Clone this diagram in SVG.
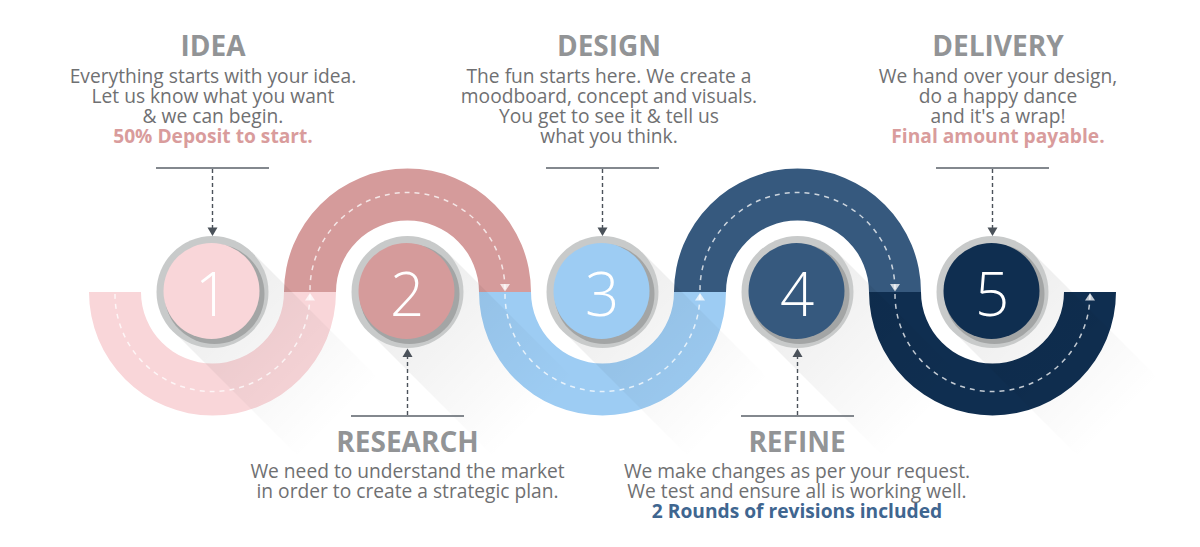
<svg xmlns="http://www.w3.org/2000/svg" width="1200" height="547" viewBox="0 0 1200 547">
<style>
.title{font-family:"Open Sans","Liberation Sans",sans-serif;font-weight:700;font-size:28px;fill:#929496;text-anchor:middle}
.body{font-family:"Open Sans","Liberation Sans",sans-serif;font-size:19.2px;fill:#6F7072;text-anchor:middle}
.pink{font-weight:700;fill:#D99C9C}
.blue{font-weight:700;fill:#3F6690}
.num{font-family:"Open Sans","Liberation Sans",sans-serif;font-weight:300;font-size:60px;fill:#FFFFFF;text-anchor:middle}
.dash{fill:none;stroke:#FFFFFF;stroke-opacity:0.75;stroke-width:1.5;stroke-dasharray:5 5}
.tip{fill:#FFFFFF;fill-opacity:0.75}
.hline{stroke:#5A6168;stroke-width:1.6}
.vline{stroke:#4B525A;stroke-width:1.4;stroke-dasharray:4 3}
.carrow{fill:#4B525A}
.ring{fill:#C8CACA}
.inner{fill:#A3A5A5}
</style>
<defs>
<linearGradient id="sh" x1="0" y1="0" x2="1" y2="1">
<stop offset="0.19" stop-color="#000" stop-opacity="0.07"/>
<stop offset="0.5" stop-color="#000" stop-opacity="0.035"/>
<stop offset="0.81" stop-color="#000" stop-opacity="0"/>
</linearGradient>
</defs>
<rect width="1200" height="547" fill="#FFFFFF"/>
<g id="arcs">
<path d="M89 292 A123.5 123.5 0 0 0 336 292 L284 292 A71.5 71.5 0 0 1 141 292 Z" fill="#F9D6D9"/>
<path d="M284 292 A123.5 123.5 0 0 1 531 292 L479 292 A71.5 71.5 0 0 0 336 292 Z" fill="#D59B9B"/>
<path d="M479 292 A123.5 123.5 0 0 0 726 292 L674 292 A71.5 71.5 0 0 1 531 292 Z" fill="#9DCCF3"/>
<path d="M674 292 A123.5 123.5 0 0 1 921 292 L869 292 A71.5 71.5 0 0 0 726 292 Z" fill="#36597E"/>
<path d="M869 292 A123.5 123.5 0 0 0 1116 292 L1064 292 A71.5 71.5 0 0 1 921 292 Z" fill="#0F2E50"/>
</g>
<g id="shadows">
<polygon points="252,252 379,379 300,458 173,331" fill="url(#sh)"/>
<polygon points="447,252 574,379 495,458 368,331" fill="url(#sh)"/>
<polygon points="642,252 769,379 690,458 563,331" fill="url(#sh)"/>
<polygon points="837,252 964,379 885,458 758,331" fill="url(#sh)"/>
<polygon points="1032,252 1159,379 1080,458 953,331" fill="url(#sh)"/>
</g>
<g id="connectors">
<path class="dash" d="M115 294 A97.5 97.5 0 0 0 310 294"/>
<path class="dash" d="M310 290 A97.5 97.5 0 0 1 505 290"/>
<path class="dash" d="M505 294 A97.5 97.5 0 0 0 700 294"/>
<path class="dash" d="M700 290 A97.5 97.5 0 0 1 895 290"/>
<path class="dash" d="M895 294 A97.5 97.5 0 0 0 1090 294"/>
<polygon class="tip" points="310,293 315,300.5 305,300.5"/>
<polygon class="tip" points="505,291.5 510,284 500,284"/>
<polygon class="tip" points="700,293 705,300.5 695,300.5"/>
<polygon class="tip" points="895,291.5 900,284 890,284"/>
<polygon class="tip" points="1090,293 1095,300.5 1085,300.5"/>
<line class="hline" x1="156" y1="168" x2="269" y2="168"/>
<line class="vline" x1="212.5" y1="169" x2="212.5" y2="228"/>
<polygon class="carrow" points="207.5,227.5 217.5,227.5 212.5,236"/>
<line class="hline" x1="546" y1="168" x2="659" y2="168"/>
<line class="vline" x1="602.5" y1="169" x2="602.5" y2="228"/>
<polygon class="carrow" points="597.5,227.5 607.5,227.5 602.5,236"/>
<line class="hline" x1="936" y1="168" x2="1049" y2="168"/>
<line class="vline" x1="992.5" y1="169" x2="992.5" y2="228"/>
<polygon class="carrow" points="987.5,227.5 997.5,227.5 992.5,236"/>
<line class="hline" x1="351" y1="416" x2="464" y2="416"/>
<line class="vline" x1="407.5" y1="415" x2="407.5" y2="357"/>
<polygon class="carrow" points="402.5,357 412.5,357 407.5,348.5"/>
<line class="hline" x1="741" y1="416" x2="854" y2="416"/>
<line class="vline" x1="797.5" y1="415" x2="797.5" y2="357"/>
<polygon class="carrow" points="792.5,357 802.5,357 797.5,348.5"/>
</g>
<g id="node1">
<circle class="ring" cx="212.5" cy="292" r="56"/>
<circle class="inner" cx="214.5" cy="294" r="50"/>
<circle cx="211.5" cy="291" r="48" fill="#F9D6D9"/>
<text class="num" x="212" y="316">1</text>
<text class="title" x="213" y="56">IDEA</text>
<text class="body" x="213" y="83">Everything starts with your idea.</text>
<text class="body" x="213" y="103">Let us know what you want</text>
<text class="body" x="213" y="123">&amp; we can begin.</text>
<text class="body pink" x="213" y="143">50% Deposit to start.</text>
</g>
<g id="node2">
<circle class="ring" cx="407.5" cy="292" r="56"/>
<circle class="inner" cx="409.5" cy="294" r="50"/>
<circle cx="406.5" cy="291" r="48" fill="#D59B9B"/>
<text class="num" x="407" y="316">2</text>
<text class="title" x="407.5" y="452">RESEARCH</text>
<text class="body" x="407.5" y="478">We need to understand the market</text>
<text class="body" x="407.5" y="498">in order to create a strategic plan.</text>
</g>
<g id="node3">
<circle class="ring" cx="602.5" cy="292" r="56"/>
<circle class="inner" cx="604.5" cy="294" r="50"/>
<circle cx="601.5" cy="291" r="48" fill="#9DCCF3"/>
<text class="num" x="602" y="316">3</text>
<text class="title" x="609" y="56">DESIGN</text>
<text class="body" x="609" y="83">The fun starts here. We create a</text>
<text class="body" x="609" y="103">moodboard, concept and visuals.</text>
<text class="body" x="609" y="123">You get to see it &amp; tell us</text>
<text class="body" x="609" y="143">what you think.</text>
</g>
<g id="node4">
<circle class="ring" cx="797.5" cy="292" r="56"/>
<circle class="inner" cx="799.5" cy="294" r="50"/>
<circle cx="796.5" cy="291" r="48" fill="#36597E"/>
<text class="num" x="797" y="316">4</text>
<text class="title" x="797" y="452">REFINE</text>
<text class="body" x="797" y="478">We make changes as per your request.</text>
<text class="body" x="797" y="498">We test and ensure all is working well.</text>
<text class="body blue" x="797" y="518">2 Rounds of revisions included</text>
</g>
<g id="node5">
<circle class="ring" cx="992.5" cy="292" r="56"/>
<circle class="inner" cx="994.5" cy="294" r="50"/>
<circle cx="991.5" cy="291" r="48" fill="#0F2E50"/>
<text class="num" x="992" y="316">5</text>
<text class="title" x="998" y="56">DELIVERY</text>
<text class="body" x="998" y="83">We hand over your design,</text>
<text class="body" x="998" y="103">do a happy dance</text>
<text class="body" x="998" y="123">and it's a wrap!</text>
<text class="body pink" x="998" y="143">Final amount payable.</text>
</g>
</svg>
